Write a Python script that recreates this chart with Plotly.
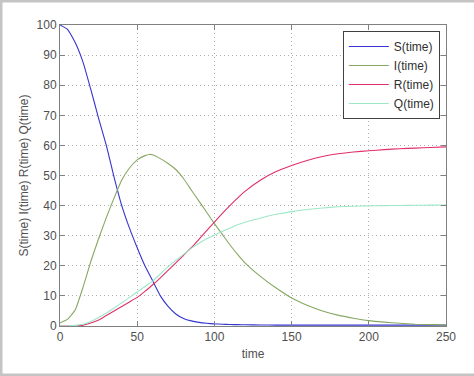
import plotly.graph_objects as go

t = [0, 5, 10, 15, 20, 25, 30, 35, 40, 45, 50, 55, 58, 60, 65, 70, 75, 80, 85, 90, 95, 100,
     105, 110, 115, 120, 130, 140, 150, 160, 170, 180, 190, 200, 210, 220, 230, 240, 250]

S = [100, 98.5, 94, 87.5, 78.5, 69, 60, 49.5, 40, 32.5, 26, 20, 17, 15, 10, 6.5, 4, 2.5, 1.7, 1.2, 0.9, 0.7,
     0.6, 0.5, 0.45, 0.4, 0.35, 0.3, 0.3, 0.3, 0.3, 0.3, 0.3, 0.3, 0.3, 0.3, 0.3, 0.3, 0.3]

I = [1, 2.3, 5.5, 13, 21.5, 29, 36, 42.5, 48.5, 52.5, 55.2, 56.6, 57, 56.9, 55.6, 54, 52, 49, 45.2, 41.5, 37.8, 34,
     30.5, 27, 23.8, 20.9, 16.4, 12.6, 9.3, 6.9, 5.0, 3.6, 2.6, 1.8, 1.3, 0.9, 0.6, 0.45, 0.3]

R = [0, 0, 0, 0.3, 1, 2, 3.5, 5, 6.5, 8, 9.5, 11.5, 12.8, 13.7, 16, 18.5, 21, 23.5, 26, 28.8, 31.7, 34.5,
     37.3, 40, 42.5, 44.8, 48.5, 51.3, 53.3, 55, 56.3, 57.2, 57.8, 58.2, 58.6, 58.9, 59.1, 59.3, 59.5]

Q = [0, 0, 0.2, 0.6, 1.5, 2.8, 4.3, 6, 7.7, 9.5, 11.3, 13.1, 14.2, 14.9, 17.3, 19.7, 21.8, 23.8, 25.8, 27.5, 29, 30.2,
     31.4, 32.5, 33.6, 34.5, 35.9, 37.1, 38, 38.7, 39.2, 39.6, 39.8, 39.9, 40, 40.05, 40.1, 40.15, 40.2]

names = ["S(time)", "I(time)", "R(time)", "Q(time)"]
colors = ["#3535d0", "#86a862", "#e0306a", "#9ee8c8"]
series = [S, I, R, Q]

fig = go.Figure()
for n, c, y in zip(names, colors, series):
    fig.add_trace(go.Scatter(x=t, y=y, mode="lines", name=n,
                             line=dict(color=c, width=1.1, shape="spline", smoothing=0.4)))

font_txt = dict(family="Liberation Sans, Arial", size=12, color="#505050")

axis_common = dict(
    showline=True, linecolor="#808080", linewidth=1, mirror="ticks",
    ticks="inside", ticklen=5, tickcolor="#808080",
    showgrid=True, gridcolor="#b0b0b0", griddash="1px,3px", gridwidth=1,
    zeroline=False,
    tickfont=font_txt,
)

fig.update_xaxes(range=[0, 250], dtick=50,
                 title=dict(text="time", standoff=6, font=font_txt), **axis_common)
fig.update_yaxes(range=[0, 100], dtick=10,
                 title=dict(text="S(time) I(time) R(time) Q(time)", standoff=5, font=font_txt),
                 **axis_common)

fig.update_layout(
    width=474, height=376,
    margin=dict(l=60, r=28, t=25, b=50, autoexpand=False),
    paper_bgcolor="white", plot_bgcolor="white",
    showlegend=True,
    legend=dict(x=0.984, y=0.98, xanchor="right", yanchor="top",
                bgcolor="white", bordercolor="#404040", borderwidth=1,
                font=dict(family="Liberation Sans, Arial", size=12, color="#303030"),
                tracegroupgap=0, itemwidth=40),
    shapes=[dict(type="rect", xref="paper", yref="paper",
                 x0=-59/386, x1=473/386, y0=-49/301, y1=325/301,
                 line=dict(color="#c4c4c4", width=3), layer="below")],
)

fig.write_html("out.html", config={"displayModeBar": False},
               post_script="document.body.style.margin='0';document.body.style.overflow='hidden';")
